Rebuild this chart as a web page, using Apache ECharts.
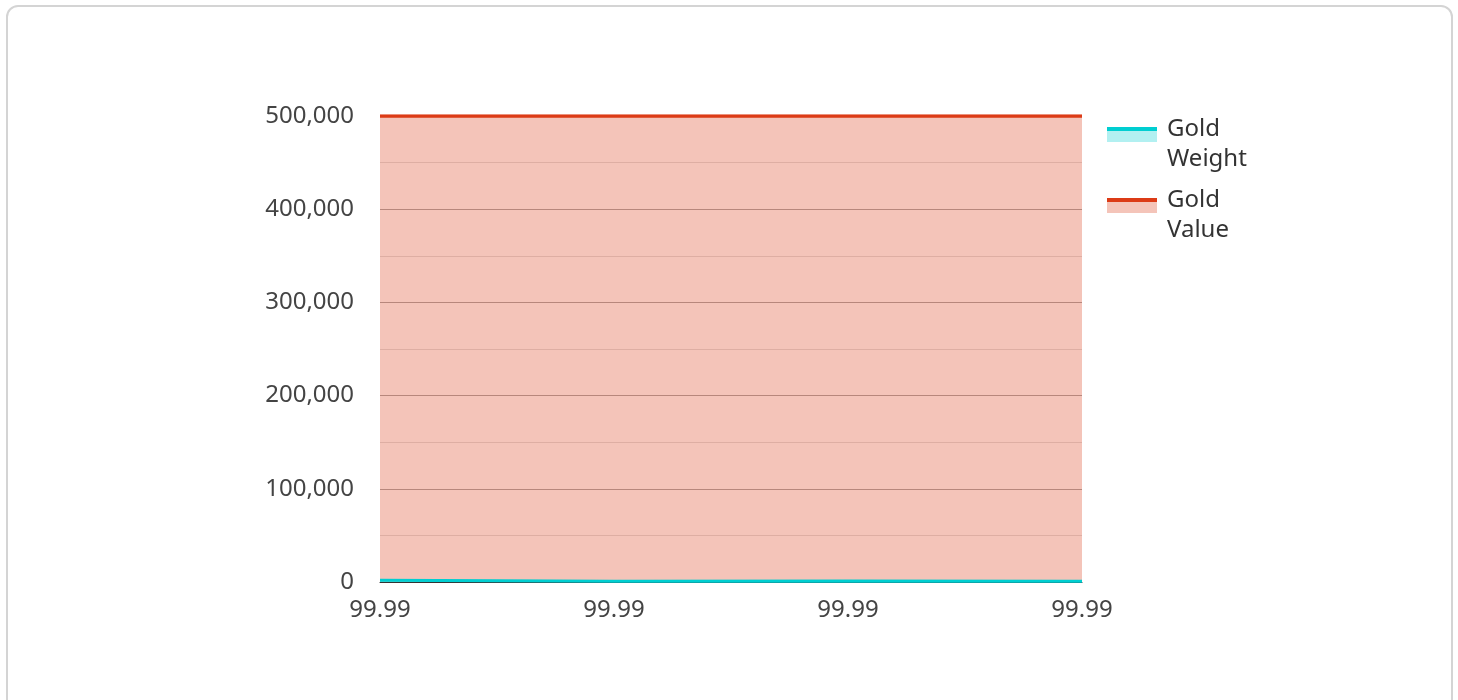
<!DOCTYPE html>
<html>
<head>
<meta charset="utf-8">
<script src="https://cdn.jsdelivr.net/npm/echarts@6/dist/echarts.min.js"></script>
<style>
  html, body { margin: 0; padding: 0; background: #fff; }
  #card {
    position: absolute; left: 6px; top: 5px; width: 1447px; height: 720px;
    border: 2px solid #d4d4d4; border-radius: 12px; box-sizing: border-box;
  }
  #chart { position: absolute; left: 0; top: 0; width: 1458px; height: 700px; }
</style>
</head>
<body>
<div id="card"></div>
<div id="chart"></div>
<script>
const categories = ['99.99', '99.99', '99.99', '99.99']
const goldWeight = [1800, 900, 1000, 700]
const goldValue = [499900, 499950, 499980, 499960]
const yTicks = [0, 100000, 200000, 300000, 400000, 500000]

const weightColor = '#00ced1'
const valueColor = '#dc3b16'

// legend icon: thick line on top of a faded block
function legendIcon(line) {
  const svg = "<svg xmlns='http://www.w3.org/2000/svg' width='50' height='15'>" +
    "<rect width='50' height='15' fill='" + line + "' fill-opacity='0.3'/>" +
    "<rect width='50' height='4' fill='" + line + "'/></svg>"
  return 'image://data:image/svg+xml;charset=utf-8,' + encodeURIComponent(svg)
}

const chart = echarts.init(document.getElementById('chart'))

chart.setOption({
  animation: false,
  textStyle: { fontFamily: 'Noto Sans' },
  grid: {
    left: 380,
    right: 376,
    top: 116,
    bottom: 118
  },
  legend: {
    orient: 'vertical',
    left: 1102,
    top: 87.5,
    itemWidth: 50,
    itemHeight: 15,
    itemGap: -8,
    data: [
      { name: 'Gold Weight', icon: legendIcon(weightColor) },
      { name: 'Gold Value', icon: legendIcon(valueColor) }
    ],
    // spacer line on top so the first word sits level with the icon
    formatter: name => '{s| }\n' + name.split(' ').map(w => '{t|' + w + '}').join('\n'),
    textStyle: {
      fontSize: 24,
      color: '#333',
      padding: [0, 0, 0, 5],
      rich: {
        s: { fontSize: 24, lineHeight: 20 },
        t: { fontSize: 24, lineHeight: 30, color: '#333' }
      }
    }
  },
  xAxis: {
    type: 'category',
    boundaryGap: false,
    data: categories,
    axisLine: { show: true, lineStyle: { color: '#333', width: 1 } },
    axisTick: { show: false },
    axisLabel: { interval: 0, fontSize: 24, color: '#444', margin: 16 },
    splitLine: { show: false }
  },
  yAxis: {
    type: 'value',
    min: yTicks[0],
    max: yTicks[yTicks.length - 1],
    interval: yTicks[1] - yTicks[0],
    axisLine: { show: false },
    axisTick: { show: false },
    axisLabel: {
      fontSize: 24,
      color: '#444',
      margin: 26,
      formatter: v => v.toLocaleString('en-US')
    },
    splitLine: { show: true, lineStyle: { color: '#a8a8a8', width: 1 } },
    minorTick: { show: false, splitNumber: 2 },
    minorSplitLine: { show: true, lineStyle: { color: '#e0e0e0', width: 1 } }
  },
  series: [
    {
      name: 'Gold Value',
      type: 'line',
      data: goldValue,
      symbol: 'none',
      color: valueColor,
      lineStyle: { color: valueColor, width: 3.5 },
      areaStyle: { color: valueColor, opacity: 0.3 }
    },
    {
      name: 'Gold Weight',
      type: 'line',
      data: goldWeight,
      symbol: 'none',
      color: weightColor,
      lineStyle: { color: weightColor, width: 3 },
      areaStyle: { color: weightColor, opacity: 0.3 }
    }
  ]
})
</script>
</body>
</html>
